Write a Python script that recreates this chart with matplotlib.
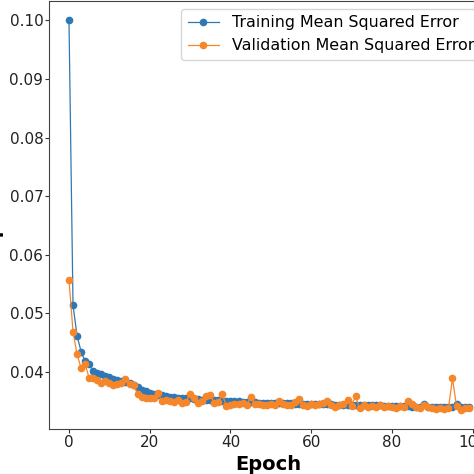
import matplotlib
matplotlib.use("Agg")
import matplotlib.pyplot as plt
import numpy as np

train_mse = [0.1000, 0.0514, 0.0462, 0.0435, 0.0418, 0.0414, 0.0402, 0.0399, 0.0396, 0.0394,
             0.0391, 0.0388, 0.0386, 0.0385, 0.0383, 0.0381, 0.0378, 0.0374, 0.0370, 0.0367,
             0.0365, 0.0363, 0.0361, 0.0360, 0.0359, 0.0358, 0.0357, 0.0356, 0.0356, 0.0355,
             0.0355, 0.0354, 0.0354, 0.0353, 0.0353, 0.0352, 0.0352, 0.0352, 0.0351, 0.0351,
             0.0350, 0.0350, 0.0350, 0.0349, 0.0349, 0.0349, 0.0349, 0.0348, 0.0348, 0.0348,
             0.0348, 0.0347, 0.0347, 0.0347, 0.0347, 0.0347, 0.0346, 0.0346, 0.0346, 0.0346,
             0.0346, 0.0345, 0.0345, 0.0345, 0.0345, 0.0345, 0.0344, 0.0344, 0.0344, 0.0344,
             0.0344, 0.0344, 0.0343, 0.0343, 0.0343, 0.0343, 0.0343, 0.0343, 0.0342, 0.0342,
             0.0342, 0.0342, 0.0342, 0.0342, 0.0342, 0.0341, 0.0341, 0.0341, 0.0345, 0.0341,
             0.0341, 0.0341, 0.0340, 0.0340, 0.0340, 0.0340, 0.0346, 0.0340, 0.0340, 0.0340]

val_mse = [0.0557, 0.0469, 0.0430, 0.0407, 0.0413, 0.0390, 0.0389, 0.0386, 0.0382, 0.0385,
           0.0381, 0.0378, 0.0379, 0.0381, 0.0388, 0.0380, 0.0378, 0.0362, 0.0358, 0.0356,
           0.0355, 0.0355, 0.0364, 0.0350, 0.0353, 0.0351, 0.0349, 0.0352, 0.0348, 0.0349,
           0.0363, 0.0355, 0.0347, 0.0350, 0.0359, 0.0360, 0.0348, 0.0349, 0.0362, 0.0342,
           0.0344, 0.0346, 0.0345, 0.0347, 0.0344, 0.0357, 0.0345, 0.0346, 0.0344, 0.0343,
           0.0346, 0.0344, 0.0351, 0.0346, 0.0343, 0.0344, 0.0349, 0.0354, 0.0344, 0.0342,
           0.0346, 0.0344, 0.0345, 0.0347, 0.0350, 0.0344, 0.0341, 0.0343, 0.0346, 0.0353,
           0.0342, 0.0359, 0.0338, 0.0344, 0.0341, 0.0342, 0.0340, 0.0343, 0.0341, 0.0342,
           0.0340, 0.0339, 0.0342, 0.0340, 0.0350, 0.0346, 0.0340, 0.0338, 0.0343, 0.0341,
           0.0339, 0.0337, 0.0338, 0.0337, 0.0338, 0.0389, 0.0342, 0.0336, 0.0338, 0.0339]

epochs = np.arange(len(train_mse))

fig = plt.figure(figsize=(4.74, 4.74), dpi=100)
# the original picture is cropped: the axes run past the right edge
ax = fig.add_axes([49 / 474, 45 / 474, 439.6 / 474, 428 / 474])

ax.plot(epochs, train_mse, marker='o', markersize=4.5, linewidth=0.9,
        color='#2f78b5', label='Training Mean Squared Error')
ax.plot(epochs, val_mse, marker='o', markersize=4.5, linewidth=0.9,
        color='#f5862a', label='Validation Mean Squared Error')

ax.set_xlabel('Epoch', fontsize=14, fontweight='bold')
ax.set_ylabel('Mean Squared Error', fontsize=14, fontweight='bold')
ax.tick_params(labelsize=11, length=2.6, pad=1.5, colors='#333333', labelcolor='#222222')
for s in ax.spines.values():
    s.set_color('#444444')
ax.legend(loc='upper right', fontsize=11.4)

fig.savefig('out.png', dpi=100)
